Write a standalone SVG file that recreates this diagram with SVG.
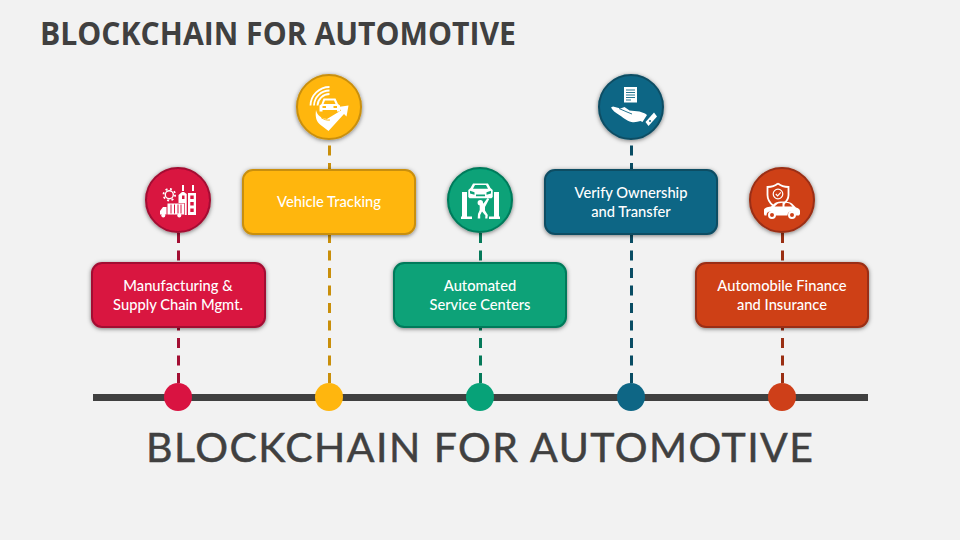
<svg xmlns="http://www.w3.org/2000/svg" width="960" height="540" viewBox="0 0 960 540">
<style>
.lbl{font-family:"Lato","Carlito","Liberation Sans",sans-serif;font-size:14.700px;font-weight:500;fill:#fff;text-anchor:middle}
.ttl{font-family:"Open Sans","Liberation Sans",sans-serif;font-size:32px;font-weight:700;fill:#404040}
.sub{font-family:"Lato","Liberation Sans",sans-serif;font-size:41px;fill:#404040;stroke:#404040;stroke-width:0.500}
.dash{fill:none;stroke-width:3;stroke-dasharray:10 7.500}
.box{stroke-width:2;filter:url(#sh)}
.ring{stroke-width:2;filter:url(#sh)}
.w{fill:#fff}
.wl{fill:none;stroke:#fff;stroke-width:1.800}
</style>
<defs>
<filter id="sh" x="-20%" y="-20%" width="140%" height="140%">
<feDropShadow dx="0" dy="1" stdDeviation="2" flood-color="#000" flood-opacity="0.5"/>
</filter>
</defs>
<rect width="960" height="540" fill="#f2f2f2"/>
<text class="ttl" x="40" y="45" textLength="476" lengthAdjust="spacingAndGlyphs">BLOCKCHAIN FOR AUTOMOTIVE</text>

<g id="connectors">
<rect x="93" y="394" width="775" height="7" fill="#404040"/>
<path class="dash" stroke="#A30F33" d="M178.500 383V233"/>
<path class="dash" stroke="#C98F0B" d="M329.500 383V140"/>
<path class="dash" stroke="#067A5A" d="M480.500 383V233"/>
<path class="dash" stroke="#0A4D64" d="M631.500 383V140"/>
<path class="dash" stroke="#9A2F13" d="M782.500 383V233"/>
</g>

<g id="node-manufacturing">
<circle cx="178" cy="397" r="14" fill="#D91341"/>
<rect class="box" x="92" y="263" width="173" height="64" rx="10" fill="#D91341" stroke="#A30F33"/>
<text class="lbl" x="178" y="291">Manufacturing &amp;</text>
<text class="lbl" x="178" y="310">Supply Chain Mgmt.</text>
<circle class="ring" cx="178" cy="200" r="32" fill="#D91341" stroke="#A30F33"/>
<circle cx="169.300" cy="194.700" r="4" fill="none" stroke="#fff" stroke-width="1.400"/>
<circle cx="169.300" cy="194.700" r="5.800" fill="none" stroke="#fff" stroke-width="1.800" stroke-dasharray="2 2.550"/>
<path class="w" d="M182 185h2v6h-2zM192 185h2v6h-2z"/>
<path class="w" fill-rule="evenodd" d="M178.500 195l3.500 -3h2l2.700 2v21h-2v-12h-6.200zM182 195.500v3.500h2.500v-3.500z"/>
<path class="w" fill-rule="evenodd" d="M188 193h8v22h-8zM190.300 195.500v3.500h3.400v-3.500zM190.300 202v3.500h3.400v-3.500zM190.300 208.500v3.500h3.400v-3.500z"/>
<path class="w" d="M167.500 203.500h16.500v11h-16.500z"/>
<path d="M171 204.500v9M174.500 204.500v9M178 204.500v9M181 204.500v9" stroke="#D91341" stroke-width="1" fill="none"/>
<path class="w" d="M160 214.500v-3.500l3 -4h3.500v7.500z"/>
<circle class="w" cx="163.300" cy="215.500" r="2"/><circle class="w" cx="179.300" cy="215.500" r="2"/>
</g>

<g id="node-tracking">
<circle cx="329" cy="397" r="14" fill="#FFB60E"/>
<rect class="box" x="243" y="170" width="172" height="64" rx="10" fill="#FFB60E" stroke="#C98F0B"/>
<text class="lbl" x="329" y="207">Vehicle Tracking</text>
<circle class="ring" cx="329" cy="107" r="32" fill="#FFB60E" stroke="#C98F0B"/>
<path class="wl" d="M310.500 105.500a19 19 0 0 1 19 -18.500"/>
<path class="wl" d="M314 105.500a15.500 15.500 0 0 1 15.500 -15"/>
<path class="wl" d="M317.500 105.500a12 12 0 0 1 12 -11.500"/>
<path class="w" fill-rule="evenodd" d="M323.500 98.500h12l2.500 5.500 2 1.500v6h-3v-1.500h-14.500v1.500h-3v-6l2 -1.500zM325 100.500l-1.500 3.500h12l-1.500 -3.500zM322.500 106v2h3.500v-2zM333.500 106v2h3.500v-2z"/>
<path class="w" d="M316 110c1 6 7 9 11 9l14 -8.500 -3 -3.500 10.500 -1.500 -2 11 -2.500 -2.500 -15.500 17 -8.500 -6.500c-3.500 -3 -5 -7 -4 -14.500z"/>
<path d="M321 117.500c3 2 6 3 9 2.500" fill="none" stroke="#FFB60E" stroke-width="1"/>
</g>

<g id="node-service">
<circle cx="480" cy="397" r="14" fill="#07A278"/>
<rect class="box" x="394" y="263" width="172" height="64" rx="10" fill="#07A278" stroke="#067A5A"/>
<text class="lbl" x="480" y="291">Automated</text>
<text class="lbl" x="480" y="310">Service Centers</text>
<circle class="ring" cx="480" cy="200" r="32" fill="#07A278" stroke="#067A5A"/>
<path class="w" d="M462 192h5v24.500h5v2.500h-11v-2.500h1zM494 192h5v24.500h1v2.500h-11v-2.500h5z"/>
<path class="w" fill-rule="evenodd" d="M473 183.500h15l2.500 4.500 2.200 2v7l-1.200 1.300h-22l-1.200 -1.300v-7l2.200 -2zM475 185l-2 3.800h15l-2 -3.800zM470 190.800v2.700l4.500 1.200v-2.500zM491 190.800v2.700l-4.500 1.200v-2.500zM476 194.500v1.800h9v-1.800z"/>
<circle class="w" cx="480.300" cy="202.700" r="2.700"/>
<path class="w" d="M487.500 198l1.700 1 -4.200 8v3.500l2.800 4.500 -.4 3.500h-2.200l.2 -3 -3.400 -4 -1.800 3.500v3.500h-2.500l.3 -4.500 1.700 -4v-5.500l-1 -2.500h2.500l2.300 1.500z"/>
</g>

<g id="node-ownership">
<circle cx="631" cy="397" r="14" fill="#0E6685"/>
<rect class="box" x="545" y="170" width="172" height="64" rx="10" fill="#0E6685" stroke="#0A4D64"/>
<text class="lbl" x="631" y="198">Verify Ownership</text>
<text class="lbl" x="631" y="217">and Transfer</text>
<circle class="ring" cx="631" cy="107" r="32" fill="#0E6685" stroke="#0A4D64"/>
<rect class="w" x="624" y="87" width="13" height="15.500"/>
<path d="M626 90h9M626 92.500h9M626 95h9M626 97.500h9M626 100h5" stroke="#0E6685" stroke-width="0.900" fill="none"/>
<path class="w" d="M611 107.500l2 -1 7.500 2 4 -1.500 5 3.500 10 1 5.500 2 2 1.500 -4.500 7 -2 -1c-3 1 -6 1.500 -9 1 -5 -1 -9 -5 -13 -7.500 -3 -2 -6 -4 -7.500 -7z"/>
<path d="M619 108.500l8 3.500 5 2" fill="none" stroke="#0E6685" stroke-width="0.900"/>
<path class="w" d="M645.500 122l8.500 -9.500 3 4 -8.500 9.500z"/>
<circle cx="650" cy="121" r="1" fill="#0E6685"/>
</g>

<g id="node-finance">
<circle cx="782" cy="397" r="14" fill="#CE3F19"/>
<rect class="box" x="696" y="263" width="172" height="64" rx="10" fill="#CE3F19" stroke="#9A2F13"/>
<text class="lbl" x="782" y="291">Automobile Finance</text>
<text class="lbl" x="782" y="310">and Insurance</text>
<circle class="ring" cx="782" cy="200" r="32" fill="#CE3F19" stroke="#9A2F13"/>
<path class="wl" d="M778 183.500c3 2.500 7 3.500 10.500 3.500v8c0 4 -2.500 7 -5 9M778 183.500c-3 2.500 -7 3.500 -10.500 3.500v8c0 4.500 2.500 8 5.500 10.500"/>
<circle cx="778" cy="194" r="4.800" fill="none" stroke="#fff" stroke-width="1.200"/>
<path d="M775.800 194l1.800 1.800 3.200 -3.500" fill="none" stroke="#fff" stroke-width="1.200"/>
<path class="w" fill-rule="evenodd" d="M764 214v-4c0 -2 3 -3 7 -3.500l4 -3.500c4 -2 13 -2 17 .5l4 4c2 .5 4 1.500 4 3.500v3l-1 1.500h-3.500a4 4 0 0 0 -8 0h-13a4 4 0 0 0 -8 0h-2zM778 203.500l-3.500 3h8v-3.800zM784.500 202.700v3.800h8l-3 -3c-1.500 -.8 -3.500 -1 -5 -.8z"/>
<circle cx="772" cy="215" r="3" fill="none" stroke="#fff" stroke-width="2"/>
<circle cx="792" cy="215" r="3" fill="none" stroke="#fff" stroke-width="2"/>
</g>

<text class="sub" x="146" y="462" textLength="667" lengthAdjust="spacing">BLOCKCHAIN FOR AUTOMOTIVE</text>
</svg>
